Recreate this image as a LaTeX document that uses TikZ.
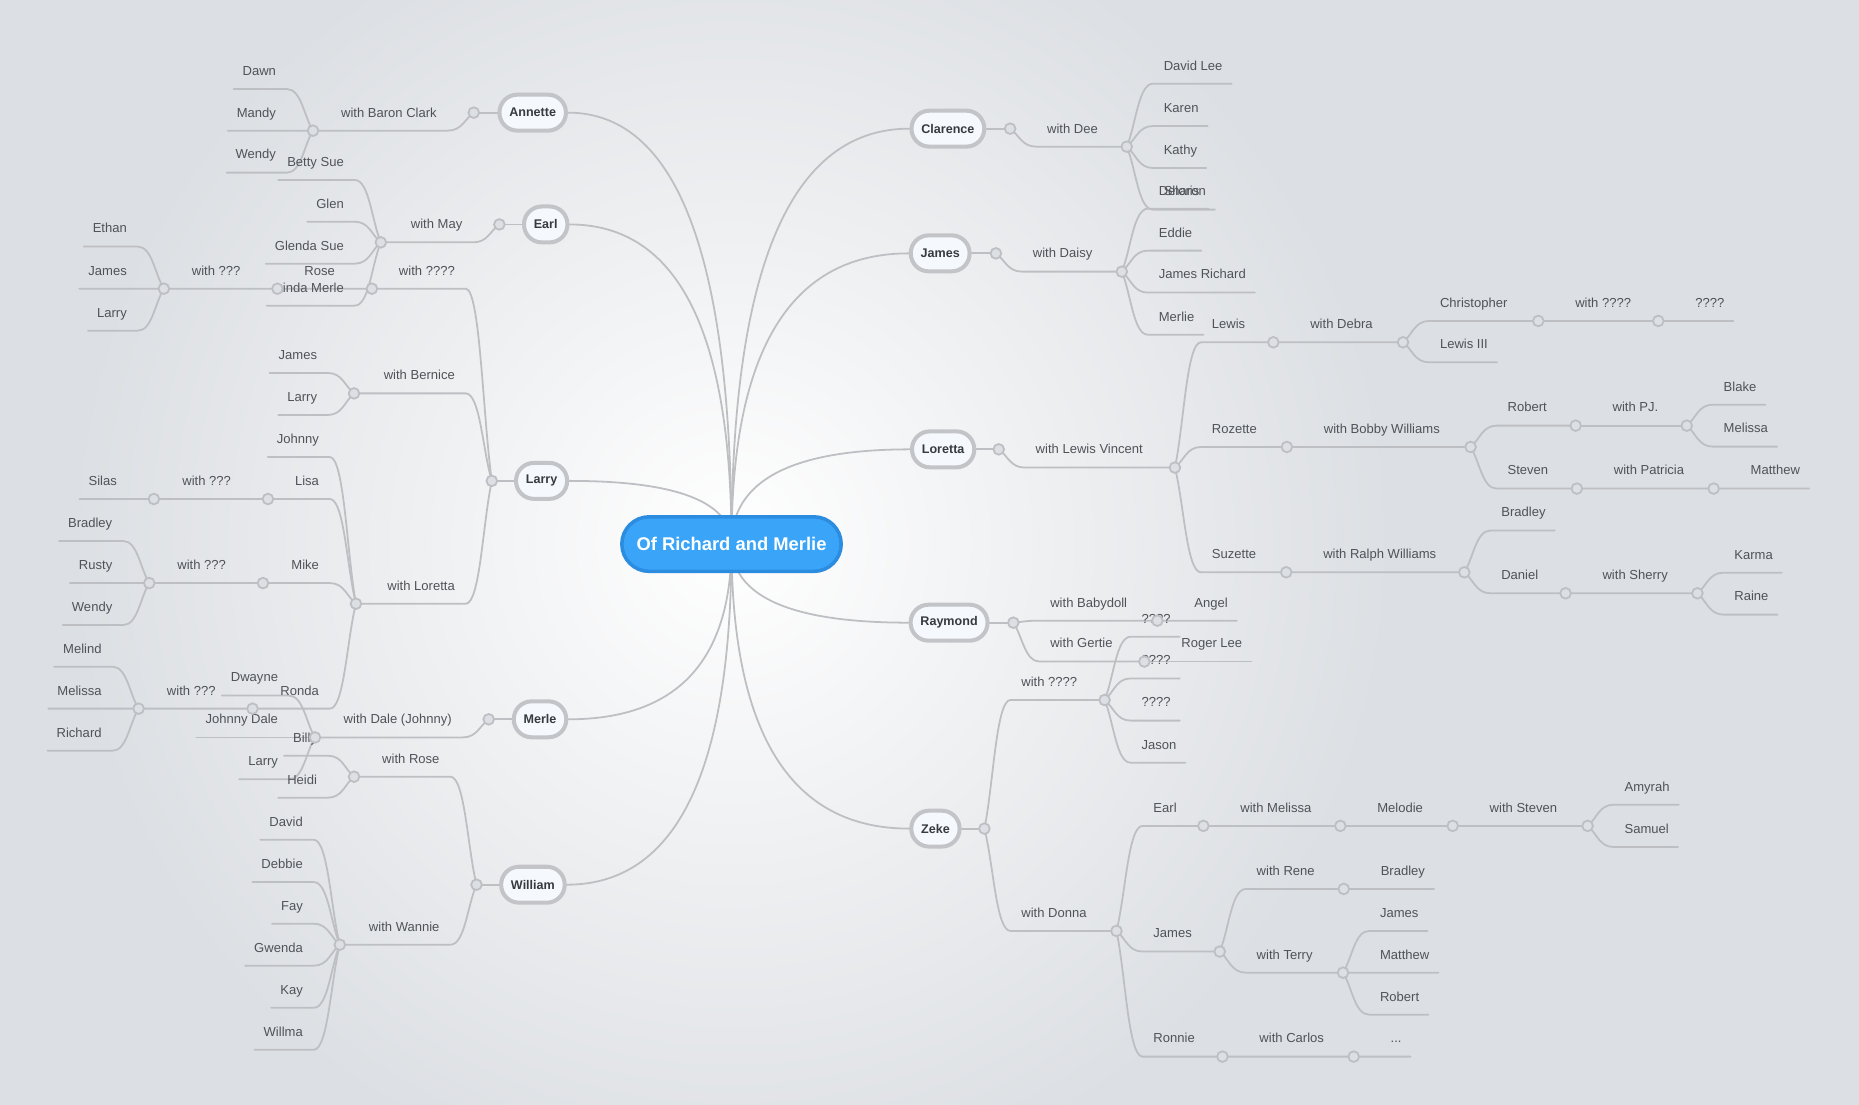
\documentclass[tikz,border=0pt]{standalone}
\usepackage{fontspec}
\setmainfont{Liberation Sans}
\usetikzlibrary{calc}
\definecolor{bgc}{HTML}{DCDFE3}
\definecolor{lnc}{HTML}{BDBFC3}
\definecolor{txc}{HTML}{4F5358}
\definecolor{mtx}{HTML}{373A3F}
\definecolor{nbd}{HTML}{C2C4C8}
\definecolor{nfill}{HTML}{F5F8FC}
\definecolor{rootc}{HTML}{3AA5F8}
\definecolor{rootb}{HTML}{2C8DE0}
\pgfdeclarelayer{back}\pgfdeclarelayer{lines}\pgfsetlayers{back,lines,main}
\tikzset{
 ln/.style={draw=lnc, line width=1.5pt, line cap=round},
 lab/.style={inner sep=0pt, text=txc, font=\fontsize{11}{13}\selectfont},
 mainn/.style={draw=nbd, line width=3.4pt, fill=nfill, rounded corners=15pt, minimum height=30.3pt, inner xsep=8.3pt, inner ysep=0pt, text=mtx, font=\fontsize{10.6}{12}\selectfont\bfseries},
 rootn/.style={draw=rootb, line width=3pt, fill=rootc, rounded corners=23pt, minimum width=185pt, minimum height=46pt, text=white, font=\fontsize{15.5}{18}\selectfont\bfseries},
 jc/.style={circle, draw=lnc, line width=1.5pt, fill=bgc, minimum size=9pt, inner sep=0pt},
 fan/.style={to path={.. controls ($(\tikztostart)!0.35!(\tikztotarget)$) and ($(\tikztostart|-\tikztotarget)!0.45!(\tikztotarget)$) .. (\tikztotarget)}},
 rc/.style={to path={.. controls ($(\tikztostart)!0.6667!(\tikztostart|-\tikztotarget)$) and ($(\tikztotarget)!0.6667!(\tikztostart|-\tikztotarget)$) .. (\tikztotarget)}},
}
% left side: from, from-x, line-y, label name, text, to
\newcommand\Lseg[6]{%
 \node[lab,anchor=base east] (#4) at (#2-31,#3-11.5) {#5};
 \coordinate (#4e) at ([xshift=9pt,yshift=-11.5pt]#4.base east);
 \begin{pgfonlayer}{lines}\draw[ln] (#1) to[fan] (#4e) -- (#6);\end{pgfonlayer}}
\newcommand\Lleaf[5]{%
 \node[lab,anchor=base east] (#4) at (#2-31,#3-11.5) {#5};
 \coordinate (#4e) at ([xshift=9pt,yshift=-11.5pt]#4.base east);
 \coordinate (#4f) at ([xshift=-7.5pt,yshift=-11.5pt]#4.base west);
 \begin{pgfonlayer}{lines}\draw[ln] (#1) to[fan] (#4e) -- (#4f);\end{pgfonlayer}}
\newcommand\Rseg[6]{%
 \node[lab,anchor=base west] (#4) at (#2+31,#3-11.5) {#5};
 \coordinate (#4e) at ([xshift=-9pt,yshift=-11.5pt]#4.base west);
 \begin{pgfonlayer}{lines}\draw[ln] (#1) to[fan] (#4e) -- (#6);\end{pgfonlayer}}
\newcommand\Rleaf[5]{%
 \node[lab,anchor=base west] (#4) at (#2+31,#3-11.5) {#5};
 \coordinate (#4e) at ([xshift=-9pt,yshift=-11.5pt]#4.base west);
 \coordinate (#4f) at ([xshift=7.5pt,yshift=-11.5pt]#4.base east);
 \begin{pgfonlayer}{lines}\draw[ln] (#1) to[fan] (#4e) -- (#4f);\end{pgfonlayer}}
\begin{document}
\begin{tikzpicture}[x=1pt,y=-1pt]
\useasboundingbox (0,0) rectangle (1568,932);
\begin{pgfonlayer}{back}
 \fill[bgc] (0,0) rectangle (1568,932);
 \begin{scope}
  \clip (0,0) rectangle (1568,932);
  \shade[inner color=white, outer color=bgc] (617,458) circle (560);
 \end{scope}
\end{pgfonlayer}

% main nodes
\node[rootn] (root) at (617,458.9) {Of Richard and Merlie};
\node[mainn] (ann) at (449.3,95) {Annette};
\node[mainn] (earl) at (460.3,189.3) {Earl};
\node[mainn] (larry) at (456.8,405.6) {Larry};
\node[mainn] (merle) at (455.5,606.7) {Merle};
\node[mainn] (will) at (449.5,746.2) {William};
\node[mainn] (clar) at (799.5,108.5) {Clarence};
\node[mainn] (jam) at (793,213.7) {James};
\node[mainn] (lor) at (795.5,379) {Loretta};
\node[mainn] (ray) at (800.5,525.2) {Raymond};
\node[mainn] (zeke) at (789,698.9) {Zeke};

% junction coordinates
\coordinate (A0) at (399.6,95);   \coordinate (AJ) at (264,110.2);
\coordinate (E0) at (421.2,189.3); \coordinate (EJ) at (321.2,204.4);
\coordinate (L0) at (414.8,405.6); \coordinate (LQ) at (313.7,243.5);
\coordinate (RoC) at (234,243.5);  \coordinate (RoJ) at (138.2,243.5);
\coordinate (LB) at (298.6,331.8); \coordinate (LL) at (300.2,509.2);
\coordinate (LiC) at (226,420.9);  \coordinate (LiJ) at (129.8,420.9);
\coordinate (MiC) at (221.8,491.8); \coordinate (MiJ) at (125.9,491.8);
\coordinate (RnC) at (213,597.7);  \coordinate (RnJ) at (116.9,597.7);
\coordinate (M0) at (412.2,606.7); \coordinate (MJ) at (265.7,622);
\coordinate (W0) at (401.9,746.2); \coordinate (WR) at (298.6,655.1);
\coordinate (WW) at (286.6,796.8);
\coordinate (C0) at (852,108.5);   \coordinate (CJ) at (950.4,123.7);
\coordinate (J0) at (840,213.7);   \coordinate (JJ) at (946.2,229.1);
\coordinate (LO0) at (842.4,379);  \coordinate (LOJ) at (991,394.4);
\coordinate (LwC) at (1074,288.7); \coordinate (LwJ) at (1183.4,288.7);
\coordinate (ChC) at (1297.5,270.7); \coordinate (ChJ) at (1398.7,270.7);
\coordinate (RzC) at (1085.4,377); \coordinate (RzJ) at (1240.4,377);
\coordinate (RbC) at (1329,359);   \coordinate (RbJ) at (1422.7,359);
\coordinate (StC) at (1330,412.1); \coordinate (StJ) at (1445.4,412.1);
\coordinate (SzC) at (1084.9,482.7); \coordinate (SzJ) at (1235.1,482.7);
\coordinate (DnC) at (1320.5,500.4); \coordinate (DnJ) at (1431.7,500.4);
\coordinate (R0) at (854.7,525.2); \coordinate (RBJ) at (976.2,523.5);
\coordinate (RGJ) at (965.2,558);
\coordinate (Z0) at (830.3,698.9); \coordinate (ZQ) at (931.7,590.4);
\coordinate (ZD) at (941.7,785.2);
\coordinate (ErC) at (1015,696.6); \coordinate (ErJ) at (1130.5,696.6);
\coordinate (MdC) at (1225.3,696.6); \coordinate (MdJ) at (1339.1,696.6);
\coordinate (ZJC) at (1028.8,802.6); \coordinate (ReJ) at (1133.4,749.8);
\coordinate (TeJ) at (1132.8,820.4);
\coordinate (RoniC) at (1031.1,891.2); \coordinate (CaJ) at (1141.8,891.2);

% root connectors and node stubs
\begin{pgfonlayer}{lines}
\draw[ln] (root.center) to[rc] (ann.east);
\draw[ln] (root.center) to[rc] (earl.east);
\draw[ln] (root.center) to[rc] (larry.east);
\draw[ln] (root.center) to[rc] (merle.east);
\draw[ln] (root.center) to[rc] (will.east);
\draw[ln] (root.center) to[rc] (clar.west);
\draw[ln] (root.center) to[rc] (jam.west);
\draw[ln] (root.center) to[rc] (lor.west);
\draw[ln] (root.center) to[rc] (ray.west);
\draw[ln] (root.center) to[rc] (zeke.west);
\draw[ln] (ann.west) -- (A0);
\draw[ln] (earl.west) -- (E0);
\draw[ln] (larry.west) -- (L0);
\draw[ln] (merle.west) -- (M0);
\draw[ln] (will.west) -- (W0);
\draw[ln] (clar.east) -- (C0);
\draw[ln] (jam.east) -- (J0);
\draw[ln] (lor.east) -- (LO0);
\draw[ln] (ray.east) -- (R0);
\draw[ln] (zeke.east) -- (Z0);
\end{pgfonlayer}

% ---- Annette
\Lseg{A0}{399.6}{110.2}{tAnn}{with Baron Clark}{AJ}
\Lleaf{AJ}{264}{75.1}{tDawn}{Dawn}
\Lleaf{AJ}{264}{110.2}{tMandy}{Mandy}
\Lleaf{AJ}{264}{145.6}{tWendyA}{Wendy}
% ---- Earl
\Lseg{E0}{421.2}{204.4}{tMay}{with May}{EJ}
\Lleaf{EJ}{321.2}{151.8}{tBetty}{Betty Sue}
\Lleaf{EJ}{321.2}{187}{tGlen}{Glen}
\Lleaf{EJ}{321.2}{222.4}{tGlenda}{Glenda Sue}
\Lleaf{EJ}{321.2}{257.8}{tLinda}{Linda Merle}
% ---- Larry
\Lseg{L0}{414.8}{243.5}{tLQ}{with ????}{LQ}
\Lseg{LQ}{313.7}{243.5}{tRose}{Rose}{RoC}
\Lseg{RoC}{234}{243.5}{tRoseW}{with ???}{RoJ}
\Lleaf{RoJ}{138.2}{208}{tEthan}{Ethan}
\Lleaf{RoJ}{138.2}{243.5}{tJamesR}{James}
\Lleaf{RoJ}{138.2}{278.9}{tLarryR}{Larry}
\Lseg{L0}{414.8}{331.8}{tBern}{with Bernice}{LB}
\Lleaf{LB}{298.6}{314.6}{tJamesB}{James}
\Lleaf{LB}{298.6}{350}{tLarryB}{Larry}
\Lseg{L0}{414.8}{509.2}{tLor}{with Loretta}{LL}
\Lleaf{LL}{300.2}{385.5}{tJohnny}{Johnny}
\Lseg{LL}{300.2}{420.9}{tLisa}{Lisa}{LiC}
\Lseg{LiC}{226}{420.9}{tLisaW}{with ???}{LiJ}
\Lleaf{LiJ}{129.8}{420.9}{tSilas}{Silas}
\Lseg{LL}{300.2}{491.8}{tMike}{Mike}{MiC}
\Lseg{MiC}{221.8}{491.8}{tMikeW}{with ???}{MiJ}
\Lleaf{MiJ}{125.9}{456.3}{tBradL}{Bradley}
\Lleaf{MiJ}{125.9}{491.8}{tRusty}{Rusty}
\Lleaf{MiJ}{125.9}{527.2}{tWendyM}{Wendy}
\Lseg{LL}{300.2}{597.7}{tRonda}{Ronda}{RnC}
\Lseg{RnC}{213}{597.7}{tRondaW}{with ???}{RnJ}
\Lleaf{RnJ}{116.9}{562.3}{tMelind}{Melind}
\Lleaf{RnJ}{116.9}{597.7}{tMelissaL}{Melissa}
\Lleaf{RnJ}{116.9}{633.2}{tRichard}{Richard}
% ---- Merle
\Lseg{M0}{412.2}{622}{tDale}{with Dale (Johnny)}{MJ}
\Lleaf{MJ}{265.7}{586.7}{tDwayne}{Dwayne}
\Lleaf{MJ}{265.7}{622}{tJD}{Johnny Dale}
\Lleaf{MJ}{265.7}{657.3}{tLarryM}{Larry}
% ---- William
\Lseg{W0}{401.9}{655.1}{tWRose}{with Rose}{WR}
\Lleaf{WR}{298.6}{637.4}{tBilly}{Billy}
\Lleaf{WR}{298.6}{672.8}{tHeidi}{Heidi}
\Lseg{W0}{401.9}{796.8}{tWannie}{with Wannie}{WW}
\Lleaf{WW}{286.6}{708.3}{tDavid}{David}
\Lleaf{WW}{286.6}{744}{tDebbie}{Debbie}
\Lleaf{WW}{286.6}{779.1}{tFay}{Fay}
\Lleaf{WW}{286.6}{814.5}{tGwenda}{Gwenda}
\Lleaf{WW}{286.6}{850}{tKay}{Kay}
\Lleaf{WW}{286.6}{885.4}{tWillma}{Willma}
% ---- Clarence
\Rseg{C0}{852}{123.7}{tDee}{with Dee}{CJ}
\Rleaf{CJ}{950.4}{70.6}{tDavidLee}{David Lee}
\Rleaf{CJ}{950.4}{106.3}{tKaren}{Karen}
\Rleaf{CJ}{950.4}{141.7}{tKathy}{Kathy}
\Rleaf{CJ}{950.4}{176.8}{tSharon}{Sharon}
% ---- James
\Rseg{J0}{840}{229.1}{tDaisy}{with Daisy}{JJ}
\Rleaf{JJ}{946.2}{176}{tDeloris}{Deloris}
\Rleaf{JJ}{946.2}{211.4}{tEddie}{Eddie}
\Rleaf{JJ}{946.2}{246.8}{tJR}{James Richard}
\Rleaf{JJ}{946.2}{282.3}{tMerlie}{Merlie}
% ---- Loretta
\Rseg{LO0}{842.4}{394.4}{tLV}{with Lewis Vincent}{LOJ}
\Rseg{LOJ}{991}{288.7}{tLewis}{Lewis}{LwC}
\Rseg{LwC}{1074}{288.7}{tDebra}{with Debra}{LwJ}
\Rseg{LwJ}{1183.4}{270.7}{tChris}{Christopher}{ChC}
\Rseg{ChC}{1297.5}{270.7}{tChrisW}{with ????}{ChJ}
\Rleaf{ChJ}{1398.7}{270.7}{tQQ}{????}
\Rleaf{LwJ}{1183.4}{305.6}{tLewis3}{Lewis III}
\Rseg{LOJ}{991}{377}{tRoz}{Rozette}{RzC}
\Rseg{RzC}{1085.4}{377}{tBobby}{with Bobby Williams}{RzJ}
\Rseg{RzJ}{1240.4}{359}{tRobertR}{Robert}{RbC}
\Rseg{RbC}{1329}{359}{tPJ}{with PJ.}{RbJ}
\Rleaf{RbJ}{1422.7}{341.3}{tBlake}{Blake}
\Rleaf{RbJ}{1422.7}{376.7}{tMelissaR}{Melissa}
\Rseg{RzJ}{1240.4}{412.1}{tStevenR}{Steven}{StC}
\Rseg{StC}{1330}{412.1}{tPat}{with Patricia}{StJ}
\Rleaf{StJ}{1445.4}{412.1}{tMatthewR}{Matthew}
\Rseg{LOJ}{991}{482.7}{tSuz}{Suzette}{SzC}
\Rseg{SzC}{1084.9}{482.7}{tRalph}{with Ralph Williams}{SzJ}
\Rleaf{SzJ}{1235.1}{447.5}{tBradR}{Bradley}
\Rseg{SzJ}{1235.1}{500.4}{tDaniel}{Daniel}{DnC}
\Rseg{DnC}{1320.5}{500.4}{tSherry}{with Sherry}{DnJ}
\Rleaf{DnJ}{1431.7}{483}{tKarma}{Karma}
\Rleaf{DnJ}{1431.7}{518.4}{tRaine}{Raine}
% ---- Raymond
\Rseg{R0}{854.7}{523.5}{tBaby}{with Babydoll}{RBJ}
\Rleaf{RBJ}{976.2}{523.5}{tAngel}{Angel}
\Rseg{R0}{854.7}{558}{tGertie}{with Gertie}{RGJ}
\Rleaf{RGJ}{965.2}{558}{tRoger}{Roger Lee}
% ---- Zeke
\Rseg{Z0}{830.3}{590.4}{tZQ}{with ????}{ZQ}
\Rleaf{ZQ}{931.7}{537}{tQa}{????}
\Rleaf{ZQ}{931.7}{572.2}{tQb}{????}
\Rleaf{ZQ}{931.7}{607.8}{tQc}{????}
\Rleaf{ZQ}{931.7}{643.3}{tJason}{Jason}
\Rseg{Z0}{830.3}{785.2}{tDonna}{with Donna}{ZD}
\Rseg{ZD}{941.7}{696.6}{tEarlZ}{Earl}{ErC}
\Rseg{ErC}{1015}{696.6}{tMelissaZ}{with Melissa}{ErJ}
\Rseg{ErJ}{1130.5}{696.6}{tMelodie}{Melodie}{MdC}
\Rseg{MdC}{1225.3}{696.6}{tWSteven}{with Steven}{MdJ}
\Rleaf{MdJ}{1339.1}{678.7}{tAmyrah}{Amyrah}
\Rleaf{MdJ}{1339.1}{714.4}{tSamuel}{Samuel}
\Rseg{ZD}{941.7}{802.6}{tJamesZ}{James}{ZJC}
\Rseg{ZJC}{1028.8}{749.8}{tRene}{with Rene}{ReJ}
\Rleaf{ReJ}{1133.4}{749.8}{tBradZ}{Bradley}
\Rseg{ZJC}{1028.8}{820.4}{tTerry}{with Terry}{TeJ}
\Rleaf{TeJ}{1132.8}{785.2}{tJamesT}{James}
\Rleaf{TeJ}{1132.8}{820.4}{tMatthewT}{Matthew}
\Rleaf{TeJ}{1132.8}{855.8}{tRobertT}{Robert}
\Rseg{ZD}{941.7}{891.2}{tRonnie}{Ronnie}{RoniC}
\Rseg{RoniC}{1031.1}{891.2}{tCarlos}{with Carlos}{CaJ}
\Rleaf{CaJ}{1141.8}{891.2}{tDots}{...}

% junction circles on top
\foreach \c in {A0,AJ,E0,EJ,L0,LQ,RoC,RoJ,LB,LL,LiC,LiJ,MiC,MiJ,RnC,RnJ,M0,MJ,W0,WR,WW,C0,CJ,J0,JJ,LO0,LOJ,LwC,LwJ,ChC,ChJ,RzC,RzJ,RbC,RbJ,StC,StJ,SzC,SzJ,DnC,DnJ,R0,RBJ,RGJ,Z0,ZQ,ZD,ErC,ErJ,MdC,MdJ,ZJC,ReJ,TeJ,RoniC,CaJ}
  \node[jc] (c\c) at (\c) {};
\end{tikzpicture}
\end{document}
